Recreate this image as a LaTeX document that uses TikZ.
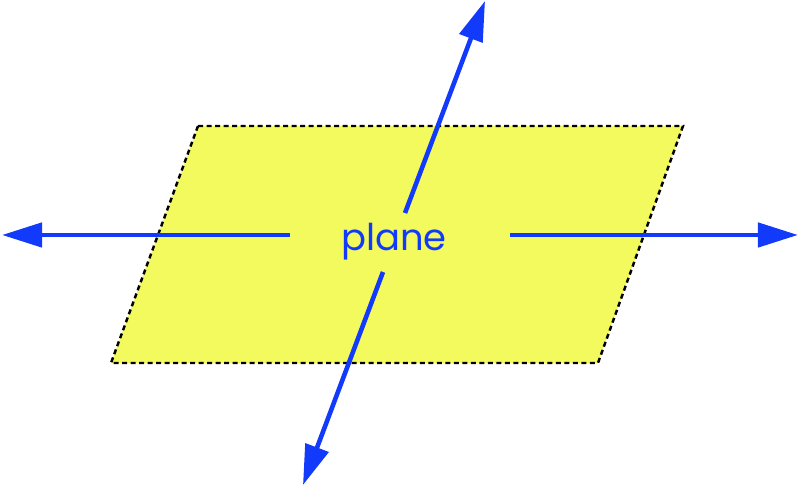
\documentclass[tikz,border=0pt]{standalone}
\usepackage{fontspec}
\setsansfont{Poppins}
\usepackage{tikz}
\usetikzlibrary{arrows.meta}
\definecolor{lineblue}{RGB}{18,58,250}
\definecolor{planeyellow}{RGB}{242,250,94}
\tikzset{
  axis/.style = {draw=lineblue, line width=1.3pt, -{Triangle[length=4mm,width=2.4mm]}},
  sheet/.style = {fill=planeyellow, draw=black, line width=0.7pt, dash pattern=on 0.5mm off 0.35mm}
}

\begin{document}
\begin{tikzpicture}[x=0.01cm, y=-0.01cm]
  \useasboundingbox (0,0) rectangle (800,486);
  % the plane
  \draw [sheet] (198,126) -- (683,126) -- (598,363) -- (111,363) -- cycle;
  \node (P) at (394,242) {\sffamily\fontsize{10.5}{12}\selectfont\color{lineblue} plane};
  % ends of the lines
  \coordinate (LI) at (290,235);
  \coordinate (LO) at (2,235);
  \coordinate (RI) at (510,235);
  \coordinate (RO) at (798,235);
  \coordinate (TI) at (405,213);
  \coordinate (TO) at (485,1);
  \coordinate (BI) at (383,272);
  \coordinate (BO) at (303,485);
  \draw [axis] (LI) -- (LO);
  \draw [axis] (RI) -- (RO);
  \draw [axis] (TI) -- (TO);
  \draw [axis] (BI) -- (BO);
\end{tikzpicture}
\end{document}
